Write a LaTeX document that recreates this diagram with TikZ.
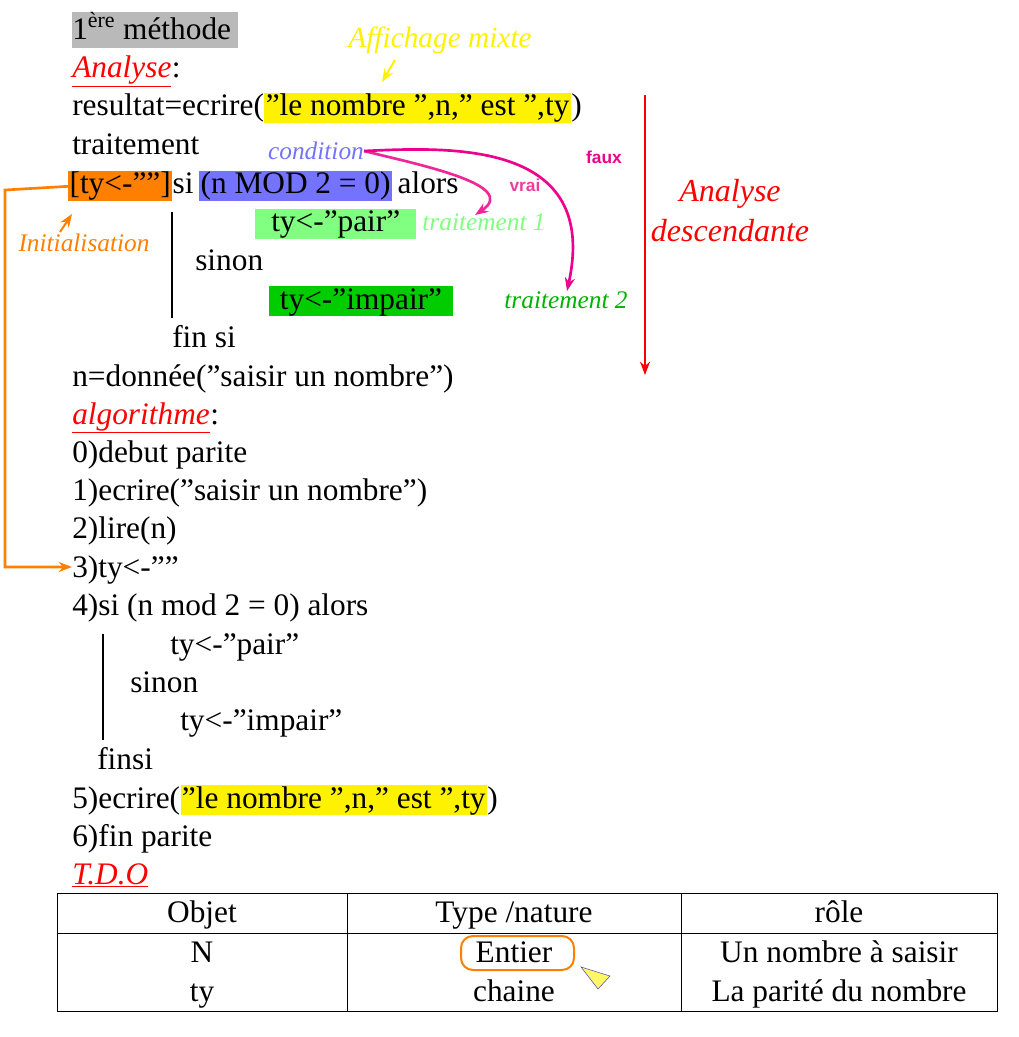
\documentclass[tikz,border=0pt]{standalone}
\usepackage{fontspec}
\usetikzlibrary{arrows.meta}
\setmainfont{Liberation Serif}
\newfontfamily\sansf{Liberation Sans}
\newcommand{\q}{\char34 }
\begin{document}
\begin{tikzpicture}[x=0.75pt,y=-0.75pt,
  t/.style={anchor=base west,inner sep=0pt,font=\fontsize{23.5}{26}\selectfont,text height=17pt,text depth=5.5pt},
  hl/.style={t,inner xsep=1pt},
  redt/.style={t,text=red,font=\fontsize{23.5}{26}\selectfont\itshape},
  it/.style={inner sep=0pt,font=\fontsize{19}{22}\selectfont\itshape},
  arr/.style={line width=2pt,-{Stealth[length=10pt]}}]
\useasboundingbox (0,0) rectangle (1018,1037);
\fill[gray!55] (72,12) rectangle (238,48);
\node[t] (l1) at (72,40) {1\textsuperscript{ère} méthode};
\node[redt] (l2) at (72,78) {\underline{Analyse}};
\node[t] at (l2.base east) {:};
\node[t] (l3) at (72,116) {resultat=ecrire(};
\node[hl,fill=yellow] (l3b) at (l3.base east) {\q le nombre \q,n,\q\ est \q,ty};
\node[t] at (l3b.base east) {)};
\node[t] (l4) at (72,155) {traitement};
\node[hl,fill=orange] (init) at (68,194) {[ty<-\q\q]};
\node[t] (si) at (init.base east) {si\,};
\node[hl,fill=blue!55] (cond) at (si.base east) {(n MOD 2 = 0)};
\node[t] (alors) at (cond.base east) {\,alors};
\node[hl,fill=green!50,inner xsep=12pt] (p1) at (255,232) {ty<-\q pair\q};
\node[t] (sinon) at (195,271) {sinon};
\node[hl,fill=green!80!black,inner xsep=8pt] (p2) at (269,309) {ty<-\q impair\q};
\node[t] (finsi) at (172,347) {fin si};
\draw[line width=1pt] (172,212) -- (172,318);
\node[t] (l10) at (72,386) {n=donnée(\q saisir un nombre\q)};
\node[redt] (l11) at (72,424) {\underline{algorithme}};
\node[t] at (l11.base east) {:};
\node[t] at (72,462) {0)debut parite};
\node[t] at (72,500) {1)ecrire(\q saisir un nombre\q)};
\node[t] at (72,538) {2)lire(n)};
\node[t] (s3) at (72,577) {3)ty<-\q\q};
\node[t] at (72,615) {4)si (n mod 2 = 0) alors};
\node[t] at (170,654) {ty<-\q pair\q};
\node[t] at (130,692) {sinon};
\node[t] at (180,730) {ty<-\q impair\q};
\node[t] at (97,769) {finsi};
\draw[line width=1pt] (103,634) -- (103,740);
\node[t] (s5) at (72,808) {5)ecrire(};
\node[hl,fill=yellow] (s5b) at (s5.base east) {\q le nombre \q,n,\q\ est \q,ty};
\node[t] at (s5b.base east) {)};
\node[t] at (72,846) {6)fin parite};
\node[redt] at (72,884) {\underline{T.D.O}};
% table
\draw (57,893) rectangle (997,1011);
\draw (57,933) -- (997,933);
\foreach \x in {347,681} \draw (\x,893) -- (\x,1011);
\foreach \x/\a/\b/\c in {202/Objet/N/ty,514/{Type /nature}/Entier/chaine,839/rôle/{Un nombre à saisir}/{La parité du nombre}}{
  \node[t,anchor=base] at (\x,922) {\a};
  \node[t,anchor=base] at (\x,962) {\b};
  \node[t,anchor=base] at (\x,1001) {\c};}
\draw[orange,line width=1.5pt,rounded corners=9pt] (461,936) rectangle (574,970);
\fill[yellow!60,draw=blue!40!gray] (581,967) -- (610,976) -- (598,989) -- cycle;
% annotations
\node[it,text=yellow,font=\fontsize{22}{24}\selectfont\itshape] (aff) at (440,40) {Affichage mixte};
\coordinate (affe) at (382,82);
\draw[yellow,arr,line width=1.5pt] (395,60) -- (affe);
\node[it,text=blue!55] (condl) at (316,151) {condition};
\node[it,text=green!50] (t1) at (484,222) {traitement 1};
\node[it,text=green!70!black] (t2) at (566,300) {traitement 2};
\node[font=\sansf\bfseries\fontsize{13}{14}\selectfont,text=magenta!70!pink] at (525,185) {vrai};
\node[font=\sansf\bfseries\fontsize{13}{14}\selectfont,text=magenta] at (604,157) {faux};
\draw[arr,magenta!80!pink] (condl.east) .. controls (420,165) and (520,185) .. (475,215);
\draw[arr,magenta] (condl.east) .. controls (450,147) and (600,140) .. (567,291);
\node[it,text=red,align=center,font=\fontsize{24}{30}\selectfont\itshape] at (730,211) {Analyse\\descendante};
\draw[red,arr] (645,95) -- (645,375);
\node[it,text=orange] (initl) at (84,243) {Initialisation};
\draw[orange,arr,line width=1.5pt] (60,232) -- (72,214);
\draw[orange,line width=2pt,-{Stealth[length=10pt]}] (init.west) -- (5,190) -- (5,567) -- (s3.west |- 0,567);
\end{tikzpicture}
\end{document}
